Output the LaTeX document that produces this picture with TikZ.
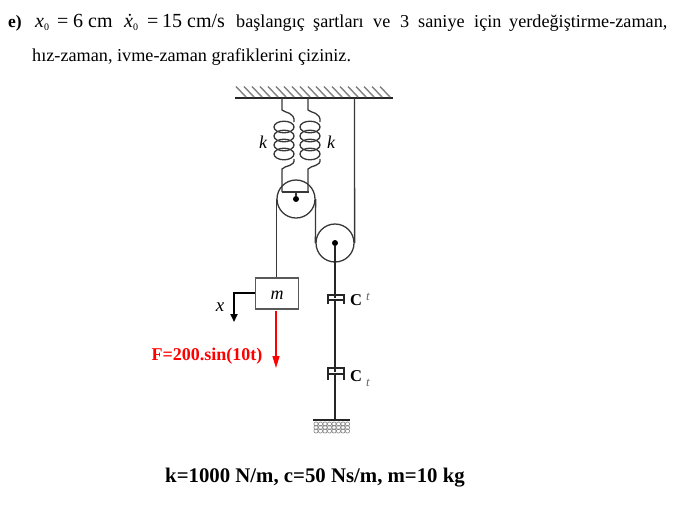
\documentclass[tikz,border=0pt]{standalone}
\usepackage{fontspec}
\setmainfont{Liberation Serif}
\usetikzlibrary{arrows.meta}
\definecolor{rope}{gray}{0.22}
\tikzset{
  wire/.style={draw=rope,line width=1.3pt},
  stem/.style={draw=black!85,line width=2.1pt},
  pulley/.style={circle,draw=rope,line width=1.3pt,minimum size=38pt,inner sep=0pt},
  hub/.style={circle,fill=black,minimum size=6pt,inner sep=0pt},
  txt/.style={inner sep=0pt,anchor=base west,font=\fontsize{18.2}{18.2}\selectfont},
  frm/.style={inner sep=0pt,anchor=base west,font=\fontsize{20}{20}\selectfont},
  captxt/.style={inner sep=0pt,anchor=base,font=\fontsize{20.8}{20.8}\selectfont\bfseries},
  lbl/.style={inner sep=0pt,font=\fontsize{18}{18}\selectfont\itshape},
  damper/.style={draw=black!85,line width=2.2pt},
  cbold/.style={inner sep=0pt,anchor=base west,font=\fontsize{16.5}{16.5}\selectfont\bfseries},
  ctiny/.style={inner sep=0pt,anchor=base west,font=\fontsize{13}{13}\selectfont\itshape,text=black!60}
}
\newcommand{\coil}[1]{%
  \draw[wire] (#1,98) -- (#1,110) .. controls (#1+3,113) and (#1+13,112) .. (#1+12,122);
  \foreach \yy in {127,136,145,154}{
    \draw[wire] (#1+2,\yy) ellipse [x radius=10pt,y radius=5.8pt];
  }
  \draw[wire] (#1+12,159) .. controls (#1+13,167) and (#1+3,165) .. (#1,169) -- (#1,192);
}
\newcommand{\subz}{\raisebox{-3pt}{\fontsize{10}{10}\selectfont 0}}
\begin{document}
\begin{tikzpicture}[x=1pt,y=-1pt]
\useasboundingbox (0,0) rectangle (692,523);
% text
\node[inner sep=0pt,anchor=base west,font=\fontsize{17.5}{17.5}\selectfont\bfseries] (e) at (8,27) {e)};
\node[frm] (f1) at (35,27) {\textit{x}\subz};
\node[frm] (f2) at (57,27) {=};
\node[frm] (f2b) at (73,27) {6 cm};
\node[frm] (f3) at (124,27) {\textit{\.x}\subz};
\node[frm] (f4) at (147,27) {=};
\node[frm] (f4b) at (162,27) {15 cm/s};
\node[txt] (l1) at (236,27) {başlangıç};
\node[txt] (l2) at (313,27) {şartları};
\node[txt] (l3) at (373,27) {ve};
\node[txt] (l4) at (400,27) {3};
\node[txt] (l5) at (418,27) {saniye};
\node[txt] (l6) at (474,27) {için};
\node[txt] (l7) at (509,27) {yerdeğiştirme-zaman,};
\node[txt] (l8) at (32,61) {hız-zaman, ivme-zaman grafiklerini çiziniz.};
\node[captxt] (data) at (315,482) {k=1000 N/m, c=50 Ns/m, m=10 kg};
% ceiling
\coordinate (ceilL) at (235,98);
\coordinate (ceilR) at (393,98);
\draw[draw=black!85,line width=1.6pt] (ceilL) -- (ceilR);
\foreach \xx in {236,244,...,380}{
  \draw[draw=black!50,line width=1.4pt] (\xx,86.5) -- (\xx+10,97);
}
% springs
\coil{282}
\coil{308}
\node[lbl] (k1) at (263,142) {k};
\node[lbl] (k2) at (331,142) {k};
% pulleys
\node[pulley] (p1) at (296,199) {};
\node[pulley] (p2) at (335,243) {};
\node[hub] (h1) at (296,199) {};
\node[hub] (h2) at (335,243) {};
\draw[wire] (282,192) -- (309,192);
\draw[wire] (296,192) -- (h1);
% ropes
\node[draw=black!65,line width=1.7pt,minimum width=43pt,minimum height=31pt,inner sep=0pt] (m) at (277,293.5) {};
\node[lbl] (mlab) at (277,295) {m};
\coordinate (ceilA) at (354.5,98);
\draw[wire] (p2.east) -- (ceilA);
\draw[wire] (p1.east) -- (p2.west);
\draw[wire] (p1.west) -- (p1.west |- m.north);
% x arrow
\coordinate (xc) at (234,293);
\coordinate (xe) at (234,322);
\draw[line width=1.9pt,-{Triangle[length=8pt,width=7pt]}] (m.west |- xc) -- (xc) -- (xe);
\node[lbl,font=\fontsize{19}{19}\selectfont\itshape] (xl) at (220,307) {x};
% force
\coordinate (fs) at (276,311);
\coordinate (fe) at (276,368);
\draw[red,line width=1.5pt,-{Triangle[length=12pt,width=7pt]}] (fs) -- (fe);
\node[inner sep=0pt,anchor=base,text=red,font=\fontsize{18}{18}\selectfont\bfseries] (F) at (207,360) {F=200.sin(10t)};
% damper stem
\coordinate (g) at (335,420);
\draw[stem] (h2) -- (335,298);
\draw[stem] (335,300) -- (335,372);
\draw[stem] (335,374) -- (g);
\draw[damper] (328,304) -- (328,295) -- (344,295) -- (344,304) (328,300) -- (344,300);
\draw[damper] (328,380) -- (328,368) -- (344,368) -- (344,380) (328,374) -- (344,374);
% damper labels
\node[cbold] (c1) at (350,305) {C};
\node[ctiny] (c1t) at (366,300) {t};
\node[cbold] (c2) at (350,381) {C};
\node[ctiny] (c2t) at (366,386) {t};
% ground
\draw[draw=black!85,line width=1.6pt] (313,420) -- (350,420);
\foreach \xx in {316,320.5,...,348}{
  \foreach \yy in {424,427.5,431}{
    \draw[draw=black!45,line width=0.7pt] (\xx,\yy) circle [radius=2.1pt];
  }
}
\end{tikzpicture}
\end{document}
